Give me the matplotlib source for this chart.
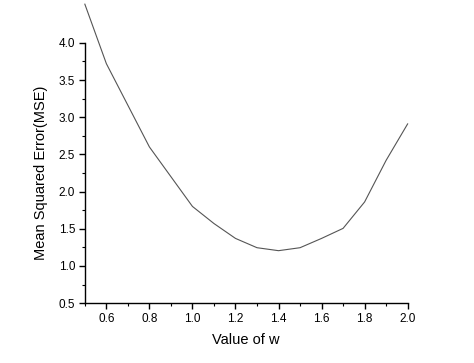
import matplotlib
matplotlib.use("Agg")
import matplotlib.pyplot as plt
from matplotlib.ticker import MultipleLocator

w = [0.5, 0.6, 0.7, 0.8, 0.9, 1.0, 1.1, 1.2, 1.3, 1.4, 1.5, 1.6, 1.7, 1.8, 1.9, 2.0]
mse = [4.52, 3.72, 3.16, 2.60, 2.20, 1.80, 1.57, 1.37, 1.245, 1.205, 1.245, 1.37, 1.505, 1.86, 2.42, 2.91]
xticks = [0.6, 0.8, 1.0, 1.2, 1.4, 1.6, 1.8, 2.0]
yticks = [0.5, 1.0, 1.5, 2.0, 2.5, 3.0, 3.5, 4.0]

plt.rcParams['font.family'] = ['Liberation Sans', 'DejaVu Sans']

fig = plt.figure(figsize=(4.74, 3.63), dpi=100)
ax = fig.add_axes([0.179, 0.165, 0.681, 0.717])
ax.plot(w, mse, color='#555555', lw=0.8, clip_on=False)
ax.set_xlim(0.5, 2.0)
ax.set_ylim(0.5, 4.0)
ax.set_xticks(xticks)
ax.set_yticks(yticks)
ax.set_xticklabels([f"{v:.1f}" for v in xticks])
ax.set_yticklabels([f"{v:.1f}" for v in yticks])
ax.xaxis.set_minor_locator(MultipleLocator(0.1))
ax.yaxis.set_minor_locator(MultipleLocator(0.25))
for s in ['top', 'right']:
    ax.spines[s].set_visible(False)
for s in ['left', 'bottom']:
    ax.spines[s].set_linewidth(1.0)
ax.tick_params(which='major', direction='out', length=4, width=1.0, labelsize=8.5, pad=3)
ax.tick_params(which='minor', direction='out', length=2.5, width=0.8)
ax.set_xlabel('Value of w', fontsize=10.5, labelpad=6)
ax.set_ylabel('Mean Squared Error(MSE)', fontsize=10.5, labelpad=8)
fig.savefig('out.png', dpi=100)
